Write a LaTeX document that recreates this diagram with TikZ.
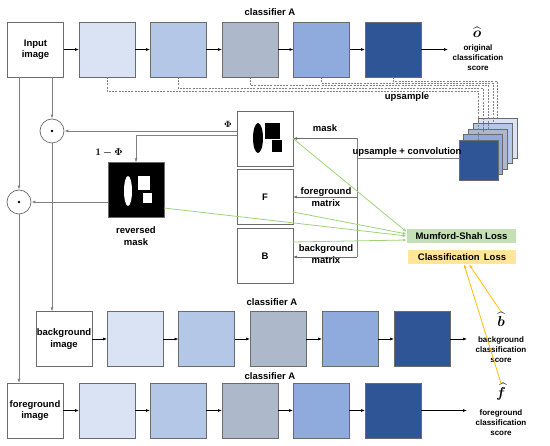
\documentclass[tikz,border=0pt]{standalone}
\usepackage{amsmath,bm}
\usepackage{fontspec}
\setmainfont{Liberation Sans}
\usetikzlibrary{arrows.meta,calc}
\definecolor{cA}{HTML}{DAE3F3}
\definecolor{cB}{HTML}{B4C7E7}
\definecolor{cC}{HTML}{ADB9CA}
\definecolor{cD}{HTML}{8FAADC}
\definecolor{cE}{HTML}{2F5597}
\definecolor{bord}{HTML}{6B6B6B}
\definecolor{lineg}{HTML}{808080}
\definecolor{gline}{HTML}{9ED37A}
\definecolor{yline}{HTML}{FFC000}
\definecolor{gfill}{HTML}{C5E0B4}
\definecolor{yfill}{HTML}{FFE699}
\begin{document}
\begin{tikzpicture}[x=1pt,y=-1pt,
  font=\bfseries\fontsize{9.5}{11.5}\selectfont,
  fm/.style={draw=bord, line width=0.8pt, minimum width=56pt, minimum height=55pt, inner sep=0pt, outer sep=0pt},
  wbox/.style={fm, fill=white, align=center},
  lay/.style={draw=bord, line width=0.6pt, minimum width=39pt, minimum height=40pt, inner sep=0pt, outer sep=0pt},
  arr/.style={-{Latex[length=4pt,width=3pt]}, line width=0.6pt, draw=black},
  conn/.style={line width=0.9pt, draw=lineg},
  carr/.style={conn, -{Latex[length=4pt,width=3pt]}},
  dsh/.style={draw=lineg, line width=0.6pt, dash pattern=on 2pt off 1.2pt},
  garr/.style={draw=gline, line width=0.8pt, -{Latex[length=4pt,width=3pt]}},
  yarr/.style={draw=yline, line width=0.8pt, -{Latex[length=4pt,width=3pt]}},
  opc/.style={circle, draw=bord, line width=0.7pt, minimum size=24pt, inner sep=0pt},
  small/.style={font=\bfseries\fontsize{8}{10}\selectfont, align=center, inner sep=0pt},
  hatm/.style={font=\fontsize{14}{14}\selectfont, inner sep=0pt}]
\useasboundingbox (0,0) rectangle (550,446);

% ---------- top row ----------
\node[wbox] (in) at (35.5,49.5) {Input\\image};
\node[fm, fill=cA] (t1) at (107,49.5) {};
\node[fm, fill=cB] (t2) at (178,49.5) {};
\node[fm, fill=cC] (t3) at (250,49.5) {};
\node[fm, fill=cD] (t4) at (321.5,49.5) {};
\node[fm, fill=cE] (t5) at (393,49.5) {};
\node (tca) at (270,12) {classifier A};
\coordinate (tout) at (448,49.5);
\draw[arr] (in) -- (t1);
\draw[arr] (t1) -- (t2);
\draw[arr] (t2) -- (t3);
\draw[arr] (t3) -- (t4);
\draw[arr] (t4) -- (t5);
\draw[arr] (t5) -- (tout);
\node[hatm] (oh) at (477,32) {$\widehat{\boldsymbol{o}}$};
\node[small] (ot) at (478,58) {original\\classification\\score};

% ---------- stack of upsampled maps ----------
\node[lay, fill=cA] (s4) at (497.5,138) {};
\node[lay, fill=cB] (s3) at (492.75,143.5) {};
\node[lay, fill=cC] (s2) at (488,149) {};
\node[lay, fill=cD] (s1) at (483.25,154.5) {};
\node[lay, fill=cE] (s0) at (478.5,160) {};

% dashed upsample lines
\draw[dsh] (t1.south) |- (478,91) -- (478,0 |- s0.north);
\draw[dsh] (t2.south) |- (483,88) -- (483,0 |- s1.north);
\draw[dsh] (t3.south) |- (488,85.5) -- (488,0 |- s2.north);
\draw[dsh] (t4.south) |- (493,83) -- (493,0 |- s3.north);
\draw[dsh] (t5.south) |- (497,81) -- (497,0 |- s4.north);
\node (ups) at (407,97) {upsample};

% ---------- mask, F, B ----------
\node[wbox] (mask) at (265,138.5) {};
\fill[black] (258,138) ellipse [x radius=5pt, y radius=15pt];
\fill[black] (265,123) rectangle (280,139);
\fill[black] (272,140) rectangle (282,152);
\node[wbox] (F) at (265,197) {F};
\node[wbox] (B) at (265,256) {B};

\coordinate (vt) at (357,138.5);
\coordinate (vf) at (357,197);
\coordinate (vb) at (357,257);
\draw[conn] (s0.west |- 0,158) -- (357,158);
\draw[conn] (vt) -- (vb);
\draw[arr, draw=bord] (vt) -- (mask.east);
\draw[arr, draw=bord] (vf) -- (F.east);
\draw[arr, draw=bord] (vb) -- (B.east |- vb);
\node (upc) at (407,152) {upsample + convolution};
\node (mlab) at (325,128) {mask};
\node[align=center, inner sep=0pt] (flab) at (326,197) {foreground\\matrix};
\node[align=center, inner sep=0pt] (blab) at (326,254) {background\\matrix};

% ---------- reversed mask ----------
\node[fm, fill=black] (rm) at (136,190) {};
\fill[white] (128,191) ellipse [x radius=4pt, y radius=15pt];
\fill[white] (138,176) rectangle (150,190);
\fill[white] (143,193) rectangle (152,203);
\node[align=center] (rml) at (136,236) {reversed\\mask};

% ---------- element-wise products ----------
\node[opc] (m1) at (52,131) {};
\fill (m1.center) circle (1.4pt);
\node[opc] (m2) at (19,202) {};
\fill (m2.center) circle (1.4pt);

\draw[carr] (in.south -| m1) -- (m1.north);
\draw[carr] (in.south -| m2) -- (m2.north);
\draw[carr] (mask.west |- 0,131) -- (m1.east);
\draw[carr] (mask.west |- 0,135) -| (rm.north);
\draw[carr] (rm.west |- m2) -- (m2.east);
\node[font=\fontsize{9}{9}\selectfont] (phil) at (228,124) {$\boldsymbol{\Phi}$};
\node[font=\fontsize{10}{10}\selectfont] (phil2) at (109,153) {$\boldsymbol{1-\Phi}$};

% ---------- background row ----------
\node[wbox] (bg) at (64,339) {background\\image};
\node[fm, fill=cA] (b1) at (135,339) {};
\node[fm, fill=cB] (b2) at (206.5,339) {};
\node[fm, fill=cC] (b3) at (278,339) {};
\node[fm, fill=cD] (b4) at (350,339) {};
\node[fm, fill=cE] (b5) at (422,339) {};
\node (bca) at (272,302) {classifier A};
\coordinate (bout) at (467,339);
\draw[arr] (bg) -- (b1);
\draw[arr] (b1) -- (b2);
\draw[arr] (b2) -- (b3);
\draw[arr] (b3) -- (b4);
\draw[arr] (b4) -- (b5);
\draw[arr] (b5) -- (bout);
\node[hatm] (bh) at (501,319) {$\widehat{\boldsymbol{b}}$};
\node[small] (bt) at (501,350) {background\\classification\\score};

% ---------- foreground row ----------
\node[wbox] (fg) at (35,410.5) {foreground\\image};
\node[fm, fill=cA] (f1) at (107,410.5) {};
\node[fm, fill=cB] (f2) at (178,410.5) {};
\node[fm, fill=cC] (f3) at (250,410.5) {};
\node[fm, fill=cD] (f4) at (321,410.5) {};
\node[fm, fill=cE] (f5) at (393,410.5) {};
\node (fca) at (270,376) {classifier A};
\coordinate (fout) at (467,410.5);
\draw[arr] (fg) -- (f1);
\draw[arr] (f1) -- (f2);
\draw[arr] (f2) -- (f3);
\draw[arr] (f3) -- (f4);
\draw[arr] (f4) -- (f5);
\draw[arr] (f5) -- (fout);
\node[hatm] (fh) at (501,392) {$\widehat{\boldsymbol{f}}$};
\node[small] (ft) at (501,423) {foreground\\classification\\score};

\draw[carr] (m1.south) -- (bg.north -| m1);
\draw[carr] (m2.south) -- (fg.north -| m2);

% ---------- losses ----------
\node[fill=gfill, minimum width=109pt, minimum height=14pt, inner sep=0pt] (ms) at (461.5,236) {Mumford-Shah Loss};
\node[fill=yfill, minimum width=108pt, minimum height=14pt, inner sep=0pt] (cl) at (462,257) {Classification\, Loss};

\draw[garr] (mask.east) -- (ms.west |- 0,232);
\draw[garr] (F.east |- 0,212) -- (ms.west |- 0,234);
\draw[garr] (rm.east |- 0,208) -- (ms.west |- 0,236);
\draw[garr] (B.east |- 0,242) -- (ms.west |- 0,240);

\draw[yarr] (bh.north) -- (cl.south -| 469,0);
\draw[yarr] (fh.north) -- (cl.south -| 464,0);
\end{tikzpicture}
\end{document}
